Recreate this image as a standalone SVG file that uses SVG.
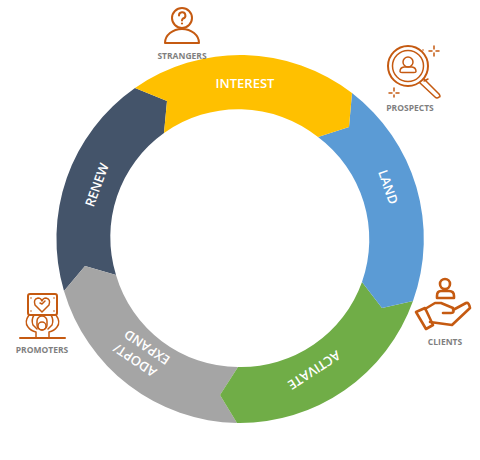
<svg xmlns="http://www.w3.org/2000/svg" width="480" height="460" viewBox="0 0 480 460">
<style>
.seg{stroke:none}
.t{font-family:"Open Sans","Liberation Sans",sans-serif;font-size:13px;font-weight:600;fill:#fff;text-anchor:middle}
.l{font-family:"Open Sans","Liberation Sans",sans-serif;font-size:8.500px;font-weight:700;fill:#7f7f7f;text-anchor:middle}
.i{fill:none;stroke:#c55a11;stroke-width:2;stroke-linejoin:round;stroke-linecap:round}
.h{fill:none;stroke:#c55a11;stroke-width:2.600;stroke-linejoin:round;stroke-linecap:round}
.f{fill:none;stroke:#c55a11;stroke-width:1.500;stroke-linejoin:round;stroke-linecap:round}
</style>
<rect width="480" height="460" fill="#fff"/>
<g id="connectors"></g>
<g id="renew">
<path class="seg" fill="#44546a" d="M135 88A184 184 0 0 0 64 291L85 266L116 275A128 128 0 0 1 164 133L167 101Z"/>
<text class="t" transform="translate(97 185) rotate(-70)" dy="4.500">RENEW</text>
</g>
<g id="adopt">
<path class="seg" fill="#a5a5a5" d="M64 291L85 266L116 275A128 128 0 0 0 238 367L220 395L237 423A184 184 0 0 1 64 291Z"/>
<text class="t" transform="translate(135 360) rotate(-146)" dy="4.500">ADOPT/</text>
<text class="t" transform="translate(147 347) rotate(-146)" dy="4.500">EXPAND</text>
</g>
<g id="activate">
<path class="seg" fill="#70ad47" d="M362 282L382 308L413 301A184 184 0 0 1 237 423L220 395L238 367A128 128 0 0 0 362 282Z"/>
<text class="t" transform="translate(314 370) rotate(147)" dy="4.500">ACTIVATE</text>
</g>
<g id="land">
<path class="seg" fill="#5b9bd5" d="M352 93A184 184 0 0 1 413 301L382 308L362 282A128 128 0 0 0 318 137L349 127Z"/>
<text class="t" transform="translate(388 187) rotate(71)" dy="4.500">LAND</text>
</g>
<g id="interest">
<path class="seg" fill="#ffc000" d="M135 88A184 184 0 0 1 352 93L349 127L318 137A128 128 0 0 0 164 133L167 101Z"/>
<text class="t" x="245" y="88">INTEREST</text>
</g>
<g id="strangers">
<circle class="i" cx="182" cy="18" r="10"/>
<path class="i" d="M165 43A17 14 0 0 1 199 43Z"/>
<path class="i" d="M179 15.500A3.200 3.200 0 1 1 183 18.500Q182 19.500 182 20.500"/>
<circle cx="182" cy="23.500" r="1.100" fill="#c55a11"/>
<text class="l" x="182" y="59">STRANGERS</text>
</g>
<g id="prospects">
<circle class="i" cx="408" cy="66" r="20"/>
<circle class="f" cx="408" cy="66" r="15.500"/>
<circle class="f" cx="408" cy="62" r="5"/>
<path class="f" d="M400 71.500Q400 67.500 404 67L412 67Q416 67.500 416 71.500Q416 72.500 414 72.500L402 72.500Q400 72.500 400 71.500Z"/>
<path class="f" d="M424 81L428 79M424 79L439 94Q441 97 439 97Q437 99 435 97L420 83"/>
<path class="f" d="M434 46V49M434 53V56M429 51H432M436 51H439"/>
<path class="f" d="M394 88V91M394 95V97M389 93H392M396 93H399"/>
<circle cx="423" cy="50" r="0.800" fill="#c55a11"/>
<text class="l" x="410" y="111">PROSPECTS</text>
</g>
<g id="clients">
<circle class="h" cx="445" cy="284" r="5"/>
<path class="h" d="M437 298V296Q437 291 441 291L449 291Q454 291 454 296V298Z"/>
<path class="h" d="M416 312L425 308L433 325L426 329Z"/>
<path class="h" d="M425 309L435 303L441 303L453 308Q455 313 451 313L443 313M430 322L452 325L470 308Q469 302 466 303L453 310"/>
<text class="l" x="445" y="345">CLIENTS</text>
</g>
<g id="promoters">
<rect class="i" x="28" y="294" width="29" height="21" rx="2"/>
<path class="f" d="M42 312L35 305Q33 299 38 298Q41 298 42 301Q43 298 46 298Q51 299 49 305Z"/>
<path class="f" d="M40 303L42 304L45 301"/>
<circle cx="31" cy="298" r="0.800" fill="#c55a11"/>
<circle cx="54" cy="298" r="0.800" fill="#c55a11"/>
<circle cx="31" cy="311" r="0.800" fill="#c55a11"/>
<circle cx="54" cy="311" r="0.800" fill="#c55a11"/>
<path class="f" d="M29 315Q24 322 28 327Q31 331 36 332L36 338M56 315Q61 322 57 327Q54 331 49 332L49 338"/>
<path class="f" d="M34 315Q31 320 33 325L37 329M51 315Q54 320 52 325L48 329"/>
<rect class="f" x="37" y="316" width="10" height="14" rx="5"/>
<circle class="f" cx="42" cy="326" r="4"/>
<path class="i" d="M20 338H65"/>
<text class="l" x="42" y="353">PROMOTERS</text>
</g>
</svg>
